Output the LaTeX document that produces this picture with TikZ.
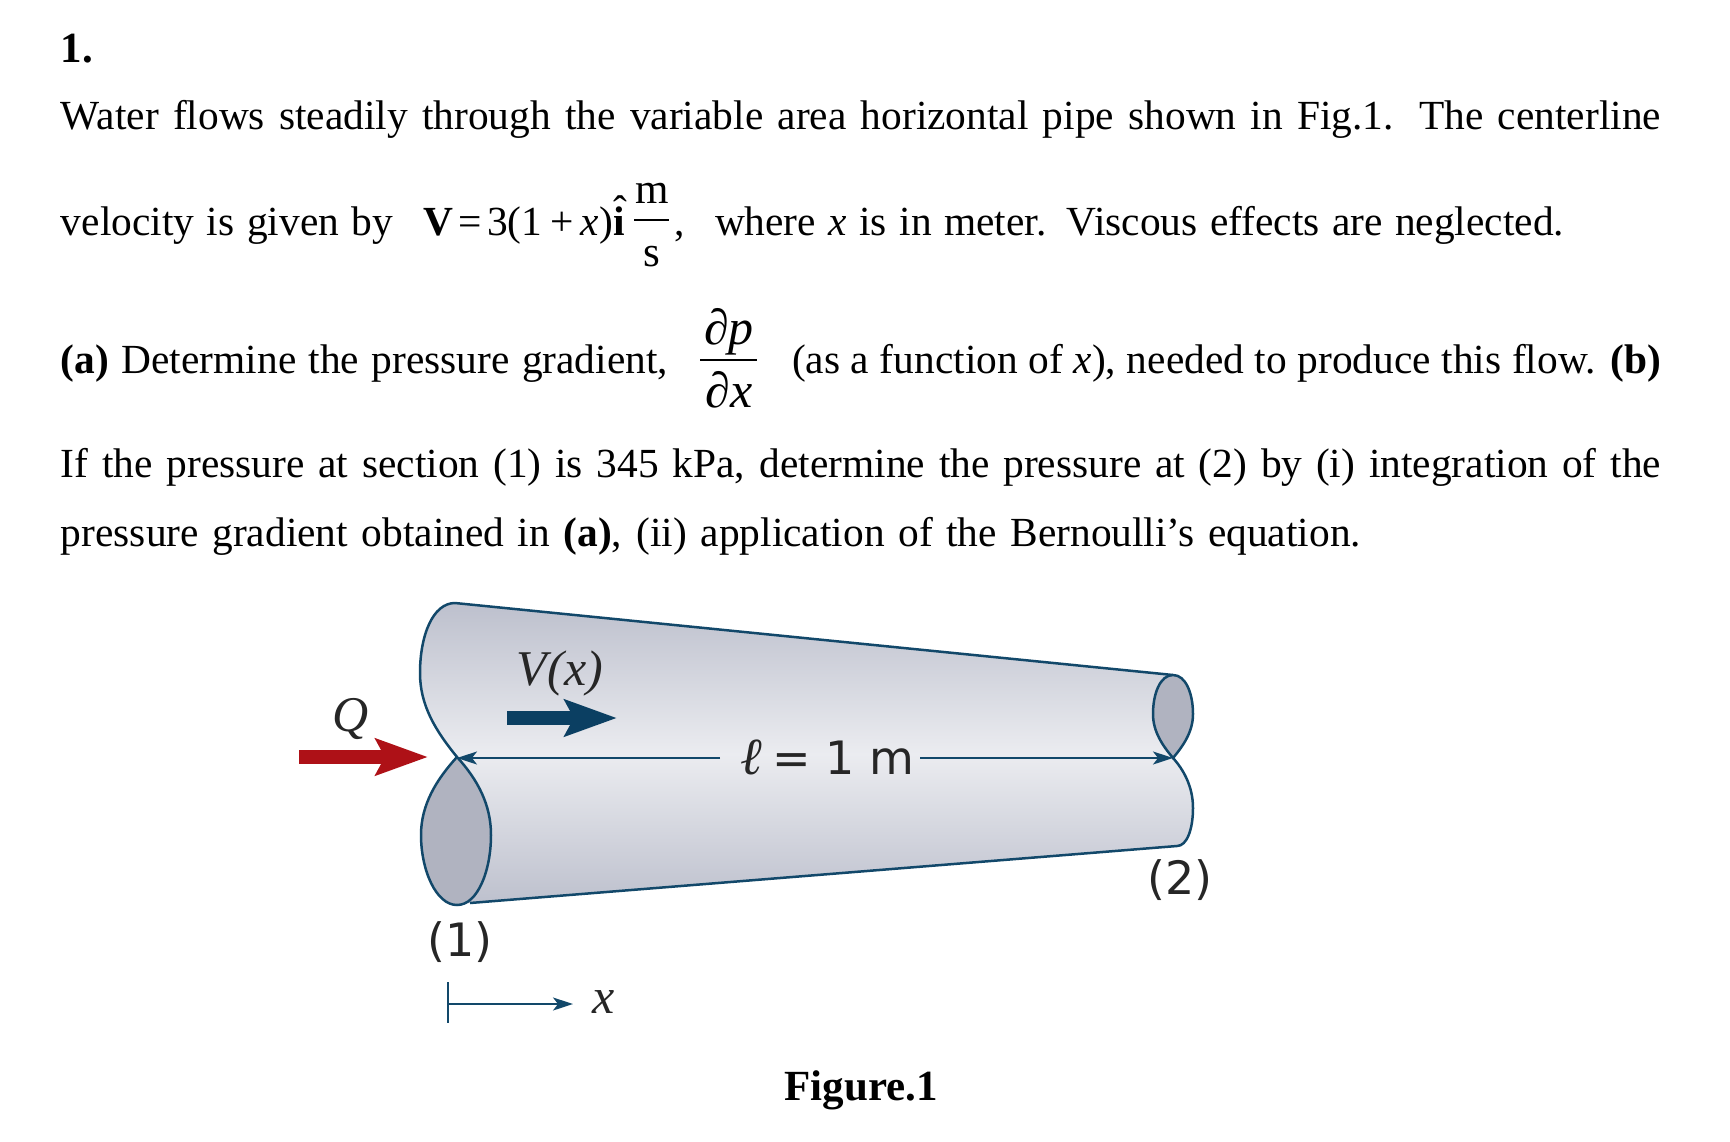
\documentclass[tikz,border=0pt]{standalone}
\usepackage{fontspec}
\setmainfont{Liberation Serif}
\newfontfamily\labelfont{DejaVu Sans}
\usetikzlibrary{arrows.meta}
\definecolor{edgeblue}{HTML}{12486A}
\definecolor{arrowblue}{HTML}{0B3F62}
\definecolor{flowred}{HTML}{AE1117}
\definecolor{pipeedge}{HTML}{BDC0CD}
\definecolor{pipemid}{HTML}{EBECF0}
\definecolor{pipeface}{HTML}{B0B3C0}
\newcommand{\fitw}[2]{\makebox[\dimexpr #1pt/2\relax][s]{#2}}
\tikzset{
  x=0.5pt,y=-0.5pt,
  txt/.style={anchor=base west,inner sep=0pt,outer sep=0pt,font=\fontsize{20.7}{24}\selectfont},
  fraclabel/.style={anchor=base,inner sep=0pt,outer sep=0pt,font=\fontsize{21.5}{24}\selectfont},
  fracbar/.style={line width=0.9pt,black},
  pipeline/.style={draw=edgeblue,line width=1.25pt,line join=round},
  dimline/.style={edgeblue,line width=0.9pt,-{Stealth[length=10pt,width=6.5pt,inset=2.5pt]}},
  bigarrow/.style={line width=7pt,-{Stealth[length=26pt,width=18pt,inset=4.5pt]}},
  figmath/.style={inner sep=0pt,font=\fontsize{25}{30}\selectfont\itshape,text=black!85},
  figlabel/.style={inner sep=0pt,font=\labelfont\fontsize{23}{26}\selectfont,text=black!85},
}
\begin{document}
\begin{tikzpicture}
\useasboundingbox (0,0) rectangle (1730,1141);
% text lines
\node[txt,font=\fontsize{21.5}{24}\selectfont\bfseries] (num) at (61,62) {1.};
\node[txt] (l1) at (61,129.5) {\fitw{1600}{Water flows steadily through the variable area horizontal pipe shown in Fig.1. The centerline}};
\node[txt] (l2a) at (61,235) {\fitw{332}{velocity is given by}};
\node[txt] (l2b) at (423,235) {\textbf{V}\kern3pt=\kern2.5pt3(1\kern3.8pt+\kern3.8pt\textit{x})\textbf{\ooalign{i\cr\hfil\raisebox{0.26em}{\normalfont\char"02C6}\hfil\cr}}};
\node[fraclabel] (um) at (652,203) {m};
\node[fraclabel] (us) at (652,266) {s};
\coordinate (ubl) at (634,220);
\coordinate (ubr) at (669,220);
\draw[fracbar] (ubl) -- (ubr);
\node[txt] (comma) at (674,235) {,};
\node[txt] (l2c) at (715,235) {\fitw{849}{where \textit{x} is in meter. Viscous effects are neglected.}};
\node[txt] (l3a) at (61,373.5) {\fitw{607}{\textbf{(a)} Determine the pressure gradient,}};
\node[fraclabel,font=\fontsize{25}{26}\selectfont\itshape] (fp) at (729,344) {∂p};
\node[fraclabel,font=\fontsize{25}{26}\selectfont\itshape] (fx) at (729,407) {∂x};
\coordinate (fbl) at (700,360);
\coordinate (fbr) at (757,360);
\draw[fracbar] (fbl) -- (fbr);
\node[txt] (l3b) at (792,373.5) {\fitw{869}{(as a function of \textit{x}), needed to produce this flow. \textbf{(b)}}};
\node[txt] (l4) at (61,477) {\fitw{1600}{If the pressure at section (1) is 345 kPa, determine the pressure at (2) by (i) integration of the}};
\node[txt] (l5) at (61,546) {\fitw{1300}{pressure gradient obtained in \textbf{(a)}, (ii) application of the Bernoulli’s equation.}};
% pipe
\path[top color=pipeedge,bottom color=pipeedge,middle color=pipemid]
  (457,757) .. controls (435,730) and (420,705) .. (420,673)
  .. controls (420,635) and (433,603) .. (455,603) -- (1173,675)
  .. controls (1186,675) and (1193,694) .. (1193,714)
  .. controls (1193,732) and (1183,746) .. (1173,758)
  .. controls (1183,769) and (1193,786) .. (1193,808)
  .. controls (1193,829) and (1187,846) .. (1177,846) -- (470,903)
  -- (457,905) .. controls (436,905) and (421,870) .. (421,835)
  .. controls (421,805) and (436,780) .. (457,757) -- cycle;
\draw[pipeline]
  (457,757) .. controls (435,730) and (420,705) .. (420,673)
  .. controls (420,635) and (433,603) .. (455,603) -- (1173,675);
\draw[pipeline]
  (1173,758) .. controls (1183,769) and (1193,786) .. (1193,808)
  .. controls (1193,829) and (1187,846) .. (1177,846) -- (470,903);
\draw[pipeline,fill=pipeface]
  (457,757) .. controls (478,780) and (491,805) .. (491,835)
  .. controls (491,870) and (478,905) .. (457,905)
  .. controls (436,905) and (421,870) .. (421,835)
  .. controls (421,805) and (436,780) .. (457,757) -- cycle;
\draw[pipeline,fill=pipeface]
  (1173,758) .. controls (1183,746) and (1193,732) .. (1193,714)
  .. controls (1193,694) and (1186,675) .. (1173,675)
  .. controls (1160,675) and (1153,694) .. (1153,714)
  .. controls (1153,732) and (1163,746) .. (1173,758) -- cycle;
% figure labels and connectors
\coordinate (pinchL) at (457,758);
\coordinate (pinchR) at (1173,758);
\node[figmath] (len) at (827,757) {\fontsize{26}{30}\selectfont\textit{ℓ}\hspace{0.2em}{\labelfont\upshape\fontsize{23}{26}\selectfont = 1 m}};
\coordinate (dl) at (720,758);
\coordinate (dr) at (920,758);
\draw[dimline] (dl) -- (pinchL);
\draw[dimline] (dr) -- (pinchR);
\coordinate (qs) at (299,757); \coordinate (qe) at (428,757);
\draw[bigarrow,flowred] (qs) -- (qe);
\coordinate (vs) at (507,718); \coordinate (ve) at (617,718);
\draw[bigarrow,arrowblue] (vs) -- (ve);
\node[figmath] (Q) at (351,719) {Q};
\node[figmath] (V) at (560,673) {V(x)};
\node[figlabel] (one) at (460,942) {(1)};
\node[figlabel] (two) at (1180,880) {(2)};
\coordinate (tt) at (448,982); \coordinate (tb) at (448,1023);
\draw[edgeblue,line width=0.9pt] (tt) -- (tb);
\coordinate (xs) at (448,1004); \coordinate (xe) at (573,1004);
\draw[dimline] (xs) -- (xe);
\node[figmath] (xl) at (604,1002) {x};
\node[txt,anchor=center,font=\fontsize{21.5}{24}\selectfont\bfseries] (figcap) at (861,1090) {Figure.1};
\end{tikzpicture}
\end{document}
